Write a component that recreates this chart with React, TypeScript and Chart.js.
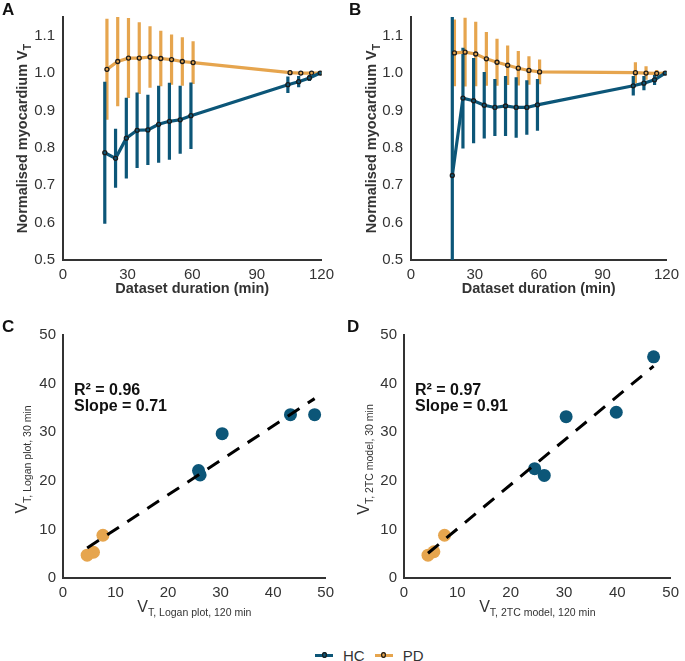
import React, { useEffect, useRef } from 'react';
import { Chart, registerables } from 'chart.js';

Chart.register(...registerables);

const FONT = '"Liberation Sans", Arial, Helvetica, sans-serif';
const HC_COLOR = '#0c5678';
const PD_COLOR = '#e6a54e';
const TEXT_COLOR = '#333333';

// Dataset durations (min) used for the time-course panels
const durations = [20, 25, 30, 35, 40, 45, 50, 55, 60, 105, 110, 115, 120];

// Panel A: Logan plot VT normalised to the 120 min value (mean and SD)
const loganHcMean = [0.787, 0.772, 0.826, 0.847, 0.848, 0.863, 0.871, 0.875, 0.886, 0.969, 0.977, 0.987, 1.0];
const loganHcSd = [0.19, 0.079, 0.108, 0.101, 0.094, 0.103, 0.103, 0.091, 0.089, 0.022, 0.015, 0.008, 0];
const loganPdMean = [1.01, 1.031, 1.04, 1.04, 1.043, 1.039, 1.036, 1.031, 1.028, 1.001, 1.0, 1.0, 1.0];
const loganPdSd = [0.135, 0.12, 0.107, 0.096, 0.082, 0.074, 0.067, 0.065, 0.057, 0.006, 0.004, 0.003, 0];

// Panel B: 2TC model VT normalised to the 120 min value (mean and SD)
const tcmHcMean = [0.726, 0.933, 0.926, 0.914, 0.908, 0.912, 0.908, 0.908, 0.915, 0.966, 0.973, 0.982, 1.0];
const tcmHcSd = [0.5, 0.135, 0.114, 0.089, 0.076, 0.08, 0.081, 0.073, 0.069, 0.026, 0.019, 0.014, 0];
const tcmPdMean = [1.054, 1.056, 1.051, 1.038, 1.029, 1.021, 1.013, 1.007, 1.003, 1.001, 1.0, 0.999, 1.0];
const tcmPdSd = [0.089, 0.092, 0.086, 0.072, 0.063, 0.053, 0.046, 0.038, 0.033, 0.028, 0.018, 0.009, 0];

// Panel C: Logan plot VT, 120 min vs 30 min
const loganHc120 = [43.3, 47.9, 30.3, 25.8, 26.1];
const loganHc30 = [33.6, 33.6, 29.7, 22.1, 21.2];
const loganPd120 = [7.6, 5.8, 4.6];
const loganPd30 = [8.8, 5.3, 4.7];
const loganFit = { r2: 0.96, slope: 0.71, intercept: 2.9 };

// Panel D: 2TC model VT, 120 min vs 30 min
const tcmHc120 = [46.8, 39.8, 30.4, 24.5, 26.3];
const tcmHc30 = [45.5, 34.1, 33.2, 22.5, 21.1];
const tcmPd120 = [7.6, 5.6, 4.5];
const tcmPd30 = [8.8, 5.4, 4.7];
const tcmFit = { r2: 0.97, slope: 0.91, intercept: 1.0 };

// Small horizontal offsets so the two groups' error bars don't sit on top of each other
const HC_DODGE = -0.6;
const PD_DODGE = 0.4;

type Run = { text: string; size: number; bold?: boolean; shift?: number };

function runFont(r: Run) {
  return `${r.bold ? 'bold ' : ''}${r.size}px ${FONT}`;
}

// Draws a line of mixed-size text (used for subscripts) centred on cx
function drawRuns(ctx: CanvasRenderingContext2D, runs: Run[], cx: number, baseline: number, vertical: boolean) {
  ctx.save();
  ctx.fillStyle = TEXT_COLOR;
  ctx.textBaseline = 'alphabetic';
  ctx.textAlign = 'left';
  const widths = runs.map((r) => {
    ctx.font = runFont(r);
    return ctx.measureText(r.text).width;
  });
  const total = widths.reduce((a, b) => a + b, 0);
  if (vertical) {
    ctx.translate(baseline, cx);
    ctx.rotate(-Math.PI / 2);
  } else {
    ctx.translate(cx, baseline);
  }
  let x = -total / 2;
  runs.forEach((r, i) => {
    ctx.font = runFont(r);
    ctx.fillText(r.text, x, r.shift || 0);
    x += widths[i];
  });
  ctx.restore();
}

type Labels = {
  xTitle: Run[];
  xBaseline: number;
  yTitle: Run[];
  yBaseline: number;
  yCenterShift?: number;
  notes?: { lines: string[]; x: number; y: number; lineHeight: number };
};

function labelsPlugin(labels: Labels) {
  return {
    id: 'panelLabels',
    afterDraw(chart: any) {
      const { ctx, chartArea } = chart;
      const cx = (chartArea.left + chartArea.right) / 2;
      const cy = (chartArea.top + chartArea.bottom) / 2 + (labels.yCenterShift || 0);
      drawRuns(ctx, labels.xTitle, cx, labels.xBaseline, false);
      drawRuns(ctx, labels.yTitle, cy, labels.yBaseline, true);
      if (labels.notes) {
        ctx.save();
        ctx.fillStyle = '#111111';
        ctx.font = `bold 16px ${FONT}`;
        ctx.textBaseline = 'alphabetic';
        labels.notes.lines.forEach((line, i) => {
          ctx.fillText(line, labels.notes!.x, labels.notes!.y + i * labels.notes!.lineHeight);
        });
        ctx.restore();
      }
    },
  };
}

function errorBarPlugin(sds: number[][], colors: string[]) {
  return {
    id: 'errorBars',
    beforeDatasetsDraw(chart: any) {
      const { ctx, chartArea, scales } = chart;
      ctx.save();
      ctx.beginPath();
      ctx.rect(chartArea.left, chartArea.top, chartArea.right - chartArea.left, chartArea.bottom - chartArea.top);
      ctx.clip();
      ctx.lineWidth = 3.2;
      ctx.lineCap = 'butt';
      // draw the PD bars first so the HC bars sit above them
      for (let di = sds.length - 1; di >= 0; di--) {
        const sd = sds[di];
        const meta = chart.getDatasetMeta(di);
        const data = chart.data.datasets[di].data as { x: number; y: number }[];
        ctx.strokeStyle = colors[di];
        meta.data.forEach((el: any, i: number) => {
          if (!sd[i]) return;
          const v = data[i].y;
          ctx.beginPath();
          ctx.moveTo(el.x, scales.y.getPixelForValue(v + sd[i]));
          ctx.lineTo(el.x, scales.y.getPixelForValue(v - sd[i]));
          ctx.stroke();
        });
      }
      ctx.restore();
    },
  };
}

const axisBorder = { display: true, color: '#333333', width: 2 };
const noGrid = { display: false, drawTicks: false, tickLength: 0 };
const tickFont = { family: FONT, size: 15 };

function timeCourseConfig(
  hcMean: number[],
  hcSd: number[],
  pdMean: number[],
  pdSd: number[],
  box: { yWidth: number; right: number },
  labels: Labels
): any {
  const lineDataset = (mean: number[], dodge: number, color: string, label: string) => ({
    label,
    data: durations.map((d, i) => ({ x: d + dodge, y: mean[i] })),
    borderColor: color,
    backgroundColor: color,
    borderWidth: 3.2,
    tension: 0,
    pointRadius: 2,
    pointBorderWidth: 1.3,
    pointBorderColor: '#1b1b1b',
    pointBackgroundColor: color,
  });
  return {
    type: 'line',
    data: {
      datasets: [
        lineDataset(hcMean, HC_DODGE, HC_COLOR, 'HC'),
        lineDataset(pdMean, PD_DODGE, PD_COLOR, 'PD'),
      ],
    },
    options: {
      responsive: false,
      devicePixelRatio: 1,
      animation: false,
      events: [],
      layout: { padding: { left: 0, right: box.right, top: 17, bottom: 0 } },
      plugins: { legend: { display: false }, tooltip: { enabled: false } },
      scales: {
        x: {
          type: 'linear',
          min: 0,
          max: 120,
          grid: noGrid,
          border: axisBorder,
          ticks: { stepSize: 30, padding: 6, color: TEXT_COLOR, font: tickFont, maxRotation: 0 },
          afterFit: (s: any) => {
            s.height = 40;
          },
        },
        y: {
          type: 'linear',
          min: 0.5,
          max: 1.15,
          grid: noGrid,
          border: axisBorder,
          ticks: {
            stepSize: 0.1,
            includeBounds: false,
            padding: 8,
            color: TEXT_COLOR,
            font: tickFont,
            callback: (v: number) => v.toFixed(1),
          },
          afterFit: (s: any) => {
            s.width = box.yWidth;
          },
        },
      },
    },
    plugins: [errorBarPlugin([hcSd, pdSd], [HC_COLOR, PD_COLOR]), labelsPlugin(labels)],
  };
}

function scatterConfig(
  hcX: number[],
  hcY: number[],
  pdX: number[],
  pdY: number[],
  fit: { r2: number; slope: number; intercept: number },
  box: { yWidth: number; right: number },
  labels: Labels
): any {
  const allX = [...hcX, ...pdX];
  const x0 = Math.min(...allX);
  const x1 = Math.max(...allX);
  const points = (xs: number[], ys: number[]) => xs.map((x, i) => ({ x, y: ys[i] }));
  return {
    type: 'scatter',
    data: {
      datasets: [
        {
          type: 'line',
          label: 'fit',
          data: [
            { x: x0, y: fit.slope * x0 + fit.intercept },
            { x: x1, y: fit.slope * x1 + fit.intercept },
          ],
          borderColor: '#000000',
          borderWidth: 3,
          borderDash: [14, 10],
          pointRadius: 0,
          fill: false,
        },
        {
          label: 'HC',
          data: points(hcX, hcY),
          backgroundColor: HC_COLOR,
          borderWidth: 0,
          pointRadius: 6.5,
        },
        {
          label: 'PD',
          data: points(pdX, pdY),
          backgroundColor: PD_COLOR,
          borderWidth: 0,
          pointRadius: 6.5,
        },
      ],
    },
    options: {
      responsive: false,
      devicePixelRatio: 1,
      animation: false,
      events: [],
      layout: { padding: { left: 0, right: box.right, top: 35, bottom: 0 } },
      plugins: { legend: { display: false }, tooltip: { enabled: false } },
      scales: {
        x: {
          type: 'linear',
          min: 0,
          max: 50,
          grid: noGrid,
          border: axisBorder,
          ticks: { stepSize: 10, padding: 6, color: TEXT_COLOR, font: tickFont, maxRotation: 0 },
          afterFit: (s: any) => {
            s.height = 52;
          },
        },
        y: {
          type: 'linear',
          min: 0,
          max: 50,
          grid: noGrid,
          border: axisBorder,
          ticks: { stepSize: 10, padding: 7, color: TEXT_COLOR, font: tickFont },
          afterFit: (s: any) => {
            s.width = box.yWidth;
          },
        },
      },
    },
    plugins: [
      labelsPlugin({
        ...labels,
        notes: {
          lines: [`R² = ${fit.r2.toFixed(2)}`, `Slope = ${fit.slope.toFixed(2)}`],
          x: labels.notes ? labels.notes.x : 74,
          y: 95,
          lineHeight: 16,
        },
      }),
    ],
  };
}

const normTitle: Run[] = [
  { text: 'Normalised myocardium V', size: 14.5, bold: true },
  { text: 'T', size: 10.5, bold: true, shift: 4 },
];
const durationTitle: Run[] = [{ text: 'Dataset duration (min)', size: 14.5, bold: true }];

const vtTitle = (sub: string): Run[] => [
  { text: 'V', size: 16 },
  { text: sub, size: 10.5, shift: 3.5 },
];

function ChartPanel(props: { left: number; top: number; width: number; height: number; make: () => any }) {
  const ref = useRef<HTMLCanvasElement>(null);
  useEffect(() => {
    const chart = new Chart(ref.current as HTMLCanvasElement, props.make());
    return () => chart.destroy();
  }, []);
  return (
    <canvas
      ref={ref}
      width={props.width}
      height={props.height}
      style={{ position: 'absolute', left: props.left, top: props.top, width: props.width, height: props.height }}
    />
  );
}

function PanelLetter({ letter, left, top }: { letter: string; left: number; top: number }) {
  return (
    <div
      style={{
        position: 'absolute',
        left,
        top,
        font: `bold 17px ${FONT}`,
        lineHeight: '17px',
        color: '#111111',
      }}
    >
      {letter}
    </div>
  );
}

function LegendItem({ color, label }: { color: string; label: string }) {
  return (
    <div style={{ display: 'flex', alignItems: 'center', marginRight: 10 }}>
      <div style={{ position: 'relative', width: 18, height: 3, background: color }}>
        <div
          style={{
            position: 'absolute',
            left: 6.5,
            top: -1.5,
            width: 5,
            height: 6,
            borderRadius: '50%',
            background: color,
            boxShadow: 'inset 0 0 0 1.2px #1b1b1b',
          }}
        />
      </div>
      <span style={{ marginLeft: 10, font: `15px ${FONT}`, color: TEXT_COLOR }}>{label}</span>
    </div>
  );
}

export default function App() {
  return (
    <div style={{ position: 'absolute', left: 0, top: 0, width: 685, height: 661, background: '#ffffff', overflow: 'hidden' }}>
      <ChartPanel
        left={0}
        top={0}
        width={340}
        height={300}
        make={() =>
          timeCourseConfig(loganHcMean, loganHcSd, loganPdMean, loganPdSd, { yWidth: 63, right: 15 }, {
            xTitle: durationTitle,
            xBaseline: 293,
            yTitle: normTitle,
            yBaseline: 27,
          })
        }
      />
      <ChartPanel
        left={340}
        top={0}
        width={345}
        height={300}
        make={() =>
          timeCourseConfig(tcmHcMean, tcmHcSd, tcmPdMean, tcmPdSd, { yWidth: 71, right: 12 }, {
            xTitle: durationTitle,
            xBaseline: 293,
            yTitle: normTitle,
            yBaseline: 36,
          })
        }
      />
      <ChartPanel
        left={0}
        top={300}
        width={340}
        height={330}
        make={() =>
          scatterConfig(loganHc120, loganHc30, loganPd120, loganPd30, loganFit, { yWidth: 63, right: 10 }, {
            xTitle: vtTitle('T, Logan plot, 120 min'),
            xBaseline: 312,
            yTitle: vtTitle('T, Logan plot, 30 min'),
            yBaseline: 27,
            yCenterShift: 3,
            notes: { lines: [], x: 74, y: 95, lineHeight: 16 },
          })
        }
      />
      <ChartPanel
        left={340}
        top={300}
        width={345}
        height={330}
        make={() =>
          scatterConfig(tcmHc120, tcmHc30, tcmPd120, tcmPd30, tcmFit, { yWidth: 64, right: 12 }, {
            xTitle: vtTitle('T, 2TC model, 120 min'),
            xBaseline: 312,
            yTitle: vtTitle('T, 2TC model, 30 min'),
            yBaseline: 29,
            yCenterShift: 3,
            notes: { lines: [], x: 75, y: 95, lineHeight: 16 },
          })
        }
      />
      <PanelLetter letter="A" left={2} top={1} />
      <PanelLetter letter="B" left={349} top={1} />
      <PanelLetter letter="C" left={2} top={318} />
      <PanelLetter letter="D" left={347} top={318} />
      <div style={{ position: 'absolute', left: 315, top: 646, height: 18, display: 'flex', alignItems: 'center' }}>
        <LegendItem color={HC_COLOR} label="HC" />
        <LegendItem color={PD_COLOR} label="PD" />
      </div>
    </div>
  );
}
